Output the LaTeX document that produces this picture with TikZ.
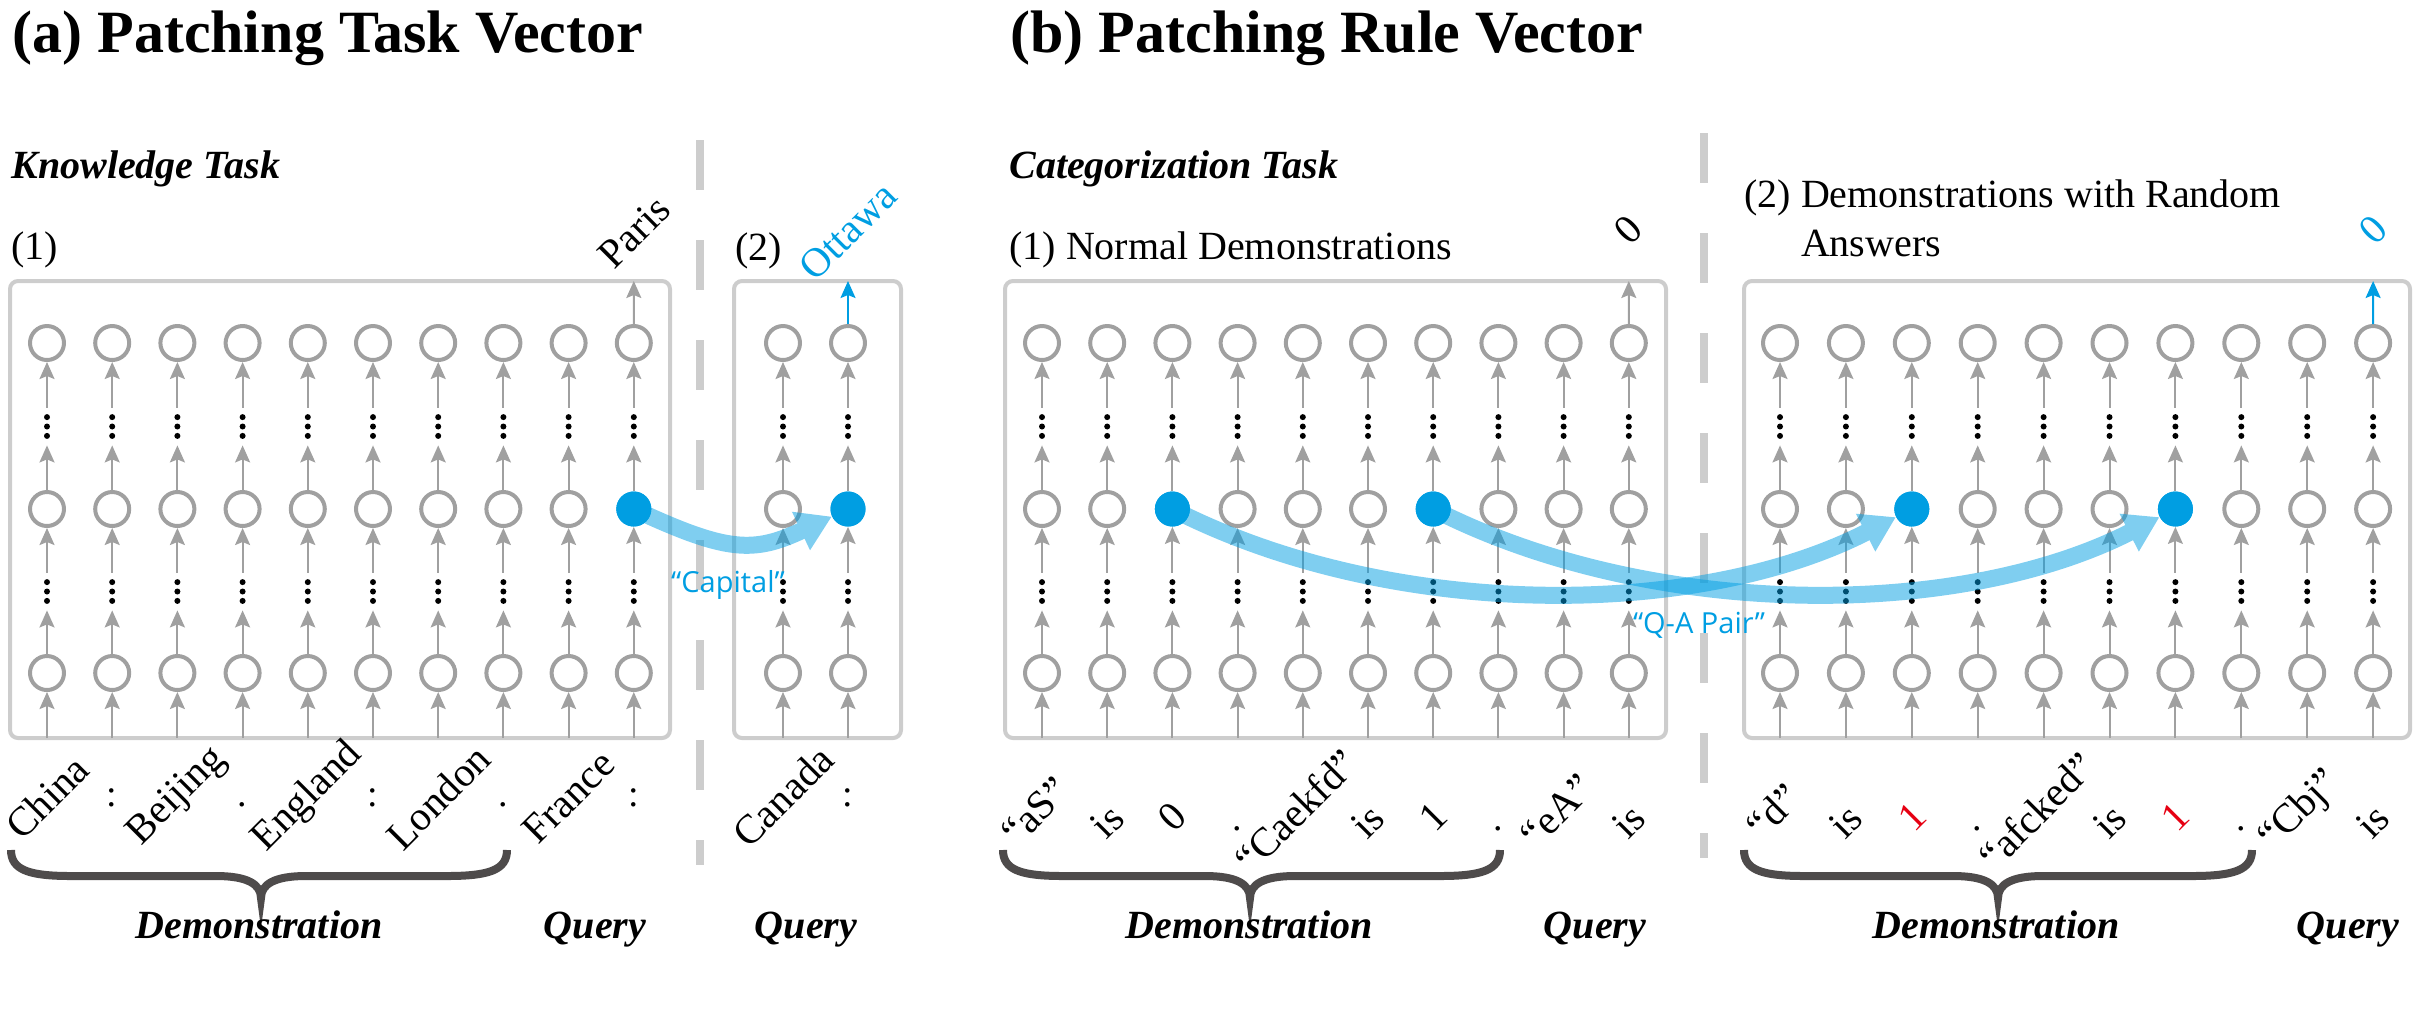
\documentclass[tikz,border=0pt]{standalone}
\usepackage{fontspec}
\setmainfont{Liberation Serif}
\newfontfamily\sansf{Open Sans}
\usetikzlibrary{arrows.meta}
\definecolor{bluex}{RGB}{0,158,226}
\definecolor{grayc}{RGB}{160,160,160}
\definecolor{boxc}{RGB}{205,205,205}
\definecolor{bracec}{RGB}{78,75,75}
\definecolor{redx}{RGB}{230,0,18}
\newcommand\tokcol[4]{%
  \node[cnode] (#1-#2-1) at (#3,673) {};
  \node[#4] (#1-#2-2) at (#3,509) {};
  \node[cnode] (#1-#2-3) at (#3,343) {};
  \node[dnode] (#1-#2-d1) at (#3,591.5) {};
  \node[dnode] (#1-#2-d2) at (#3,426.5) {};
  \coordinate (#1-#2-in) at (#3,738);
  \draw[garr] (#1-#2-in) -- (#1-#2-1);
  \draw[garr] (#1-#2-1) -- (#1-#2-d1);
  \draw[garr] (#1-#2-d1) -- (#1-#2-2);
  \draw[garr] (#1-#2-2) -- (#1-#2-d2);
  \draw[garr] (#1-#2-d2) -- (#1-#2-3);
  \foreach \dd in {#1-#2-d1,#1-#2-d2}{%
    \fill (\dd.center) circle[radius=1.5pt];
    \fill ([yshift=4.7pt]\dd.center) circle[radius=1.5pt];
    \fill ([yshift=-4.7pt]\dd.center) circle[radius=1.5pt];}%
}
\newcommand\mybrace[3]{% left, tip, right
  \draw[bracel] (#1,850) .. controls (#1,870) and (#1+18,876) .. (#1+60,876)
    -- (#2-45,876) .. controls (#2-14,876) and (#2,884) .. (#2,898)
    .. controls (#2,884) and (#2+14,876) .. (#2+45,876)
    -- (#3-60,876) .. controls (#3-18,876) and (#3,870) .. (#3,850);
}
\begin{document}
\begin{tikzpicture}[x=0.5pt,y=-0.5pt,
  cnode/.style={circle,draw=grayc,line width=2pt,minimum size=17pt,inner sep=0pt},
  bnode/.style={circle,fill=bluex,minimum size=17.5pt,inner sep=0pt},
  dnode/.style={inner sep=0pt,minimum width=4pt,minimum height=18.5pt},
  garr/.style={draw=grayc,line width=1pt,-{Stealth[length=8.5pt,width=7.5pt,inset=1.5pt]}},
  barr/.style={draw=bluex,line width=1pt,-{Stealth[length=8.5pt,width=7.5pt,inset=1.5pt]}},
  gbox/.style={draw=boxc,line width=2pt,rounded corners=4pt},
  sepl/.style={draw=boxc,line width=4pt,dash pattern=on 25pt off 25pt},
  band/.style={draw=bluex,line width=8.5pt,-{Triangle[length=17pt,width=20pt]}},
  bracel/.style={draw=bracec,line width=4pt},
  lab/.style={rotate=45,inner sep=0pt,font=\fontsize{20.5pt}{24pt}\selectfont},
  punct/.style={anchor=base,inner sep=0pt,font=\fontsize{19pt}{22pt}\selectfont},
  head/.style={anchor=base west,inner sep=0pt,font=\fontsize{20pt}{24.5pt}\selectfont},
  titlef/.style={anchor=base west,inner sep=0pt,font=\fontsize{30pt}{36pt}\selectfont\bfseries},
  taskf/.style={anchor=base west,inner sep=0pt,font=\fontsize{20pt}{24pt}\selectfont\bfseries\itshape},
  botf/.style={anchor=base,inner sep=0pt,font=\fontsize{20pt}{24pt}\selectfont\bfseries\itshape},
  sanslab/.style={inner sep=0pt,text=bluex,font=\sansf\fontsize{14.5pt}{17pt}\selectfont}]
\useasboundingbox (0,0) rectangle (2415,1009);

% titles
\node[titlef] (ta) at (12,52) {(a) Patching Task Vector};
\node[titlef] (tb) at (1010,52) {(b) Patching Rule Vector};
\node[taskf] (kt) at (11,178) {Knowledge Task};
\node[taskf] (ct) at (1009,178) {Categorization Task};
\node[head] (h1) at (11,259) {(1)};
\node[head] (h2) at (735,260) {(2)};
\node[head] (hb1) at (1009,259) {(1) Normal Demonstrations};
\node[head] (hb2) at (1744,207) {\begin{tabular}[t]{@{}l@{\ }l@{}}(2)&Demonstrations with Random\\&Answers\end{tabular}};

% separators
\coordinate (s1a) at (700,140); \coordinate (s1b) at (700,865);
\coordinate (s2a) at (1704,133); \coordinate (s2b) at (1704,858);
\draw[sepl] (s1a) -- (s1b);
\draw[sepl] (s2a) -- (s2b);

% boxes
\draw[gbox] (10,281) rectangle (670,738);
\draw[gbox] (734,281) rectangle (901,738);
\draw[gbox] (1005,281) rectangle (1666,738);
\draw[gbox] (1744,281) rectangle (2410,738);

% columns
\foreach \i/\s in {1/cnode,2/cnode,3/cnode,4/cnode,5/cnode,6/cnode,7/cnode,8/cnode,9/cnode,10/bnode}{%
  \pgfmathsetmacro\xx{47+65.2*(\i-1)}\tokcol{a}{\i}{\xx}{\s}}
\foreach \i/\s in {1/cnode,2/bnode}{%
  \pgfmathsetmacro\xx{783+65*(\i-1)}\tokcol{aa}{\i}{\xx}{\s}}
\foreach \i/\s in {1/cnode,2/cnode,3/bnode,4/cnode,5/cnode,6/cnode,7/bnode,8/cnode,9/cnode,10/cnode}{%
  \pgfmathsetmacro\xx{1042+65.2*(\i-1)}\tokcol{b}{\i}{\xx}{\s}}
\foreach \i/\s in {1/cnode,2/cnode,3/bnode,4/cnode,5/cnode,6/cnode,7/bnode,8/cnode,9/cnode,10/cnode}{%
  \pgfmathsetmacro\xx{1780+65.9*(\i-1)}\tokcol{bb}{\i}{\xx}{\s}}

% output arrows
\coordinate (a-out) at (633.8,281);
\coordinate (aa-out) at (848,281);
\coordinate (b-out) at (1628.8,281);
\coordinate (bb-out) at (2373.1,281);
\draw[garr] (a-10-3) -- (a-out);
\draw[barr] (aa-2-3) -- (aa-out);
\draw[garr] (b-10-3) -- (b-out);
\draw[barr] (bb-10-3) -- (bb-out);
\node[lab] (o1) at (634,232) {Paris};
\node[lab,text=bluex] (o2) at (848,231) {Ottawa};
\node[lab] (o3) at (1628,230) {0};
\node[lab,text=bluex] (o4) at (2373,230) {0};

% patching bands
\begin{scope}[transparency group,opacity=0.5]
\draw[band] (a-10-2.center) .. controls (728,553) and (754,553) .. (aa-2-2);
\end{scope}
\begin{scope}[transparency group,opacity=0.5]
\draw[band] (b-3-2.center) .. controls (1390,620) and (1695,620) .. (bb-3-2);
\end{scope}
\begin{scope}[transparency group,opacity=0.5]
\draw[band] (b-7-2.center) .. controls (1651,620) and (1958,620) .. (bb-7-2);
\end{scope}
\foreach \n in {a-10-2,aa-2-2,b-3-2,b-7-2,bb-3-2,bb-7-2}{\fill[bluex] (\n.center) circle[radius=8.75pt];}
\node[sanslab] (cap) at (728,585) {“Capital”};
\node[sanslab] (qa) at (1699,625) {“Q-A Pair”};

% input tokens (a)
\foreach \i/\t in {1/China,3/Beijing,5/England,7/London,9/France}{%
  \node[lab] (la-\i) at ({47+65.2*(\i-1)},797) {\t};}
\foreach \i/\t in {2/:,4/.,6/:,8/.,10/:}{%
  \node[punct] (la-\i) at ({47+65.2*(\i-1)},806) {\t};}
\node[lab] (laa-1) at (783,796) {Canada};
\node[punct] (laa-2) at (848,806) {:};

% input tokens (b1)
\foreach \i/\t in {1/“aS”,5/“Caekfd”,9/“eA”}{%
  \node[lab] (lb-\i) at ({1042+65.2*(\i-1)-7},811) {\t};}
\foreach \i in {2,6,10}{%
  \node[lab] (lb-\i) at ({1042+65.2*(\i-1)},821) {is};}
\node[lab] (lb-3) at (1172.4,817) {0};
\node[lab] (lb-7) at (1433.2,817) {1};
\node[punct] (lb-4) at (1237.6,830) {.};
\node[punct] (lb-8) at (1498.4,830) {.};

% input tokens (b2)
\foreach \i/\t in {1/“d”,5/“afcked”,9/“Cbj”}{%
  \node[lab] (lbb-\i) at ({1780+65.9*(\i-1)-7},811) {\t};}
\foreach \i in {2,6,10}{%
  \node[lab] (lbb-\i) at ({1780+65.9*(\i-1)},821) {is};}
\node[lab,text=redx] (lbb-3) at (1911.8,817) {1};
\node[lab,text=redx] (lbb-7) at (2175.4,817) {1};
\node[punct] (lbb-4) at (1977.7,830) {.};
\node[punct] (lbb-8) at (2241.3,830) {.};

% braces
\mybrace{11}{261}{507}
\mybrace{1003}{1250}{1500}
\mybrace{1744}{1998}{2252}
\node[botf] (da) at (259,938) {Demonstration};
\node[botf] (qa1) at (595,938) {Query};
\node[botf] (qa2) at (806,938) {Query};
\node[botf] (db) at (1249,938) {Demonstration};
\node[botf] (qb1) at (1595,938) {Query};
\node[botf] (dbb) at (1996,938) {Demonstration};
\node[botf] (qb2) at (2348,938) {Query};
\end{tikzpicture}
\end{document}
